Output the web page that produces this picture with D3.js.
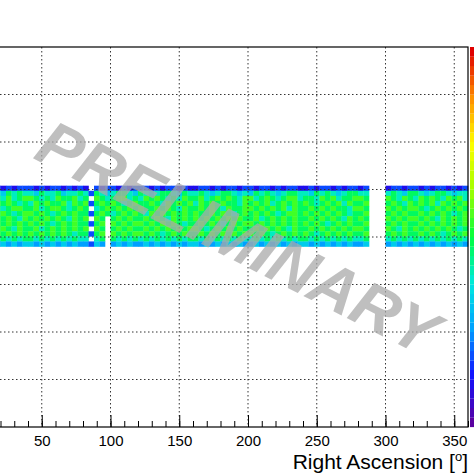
<!DOCTYPE html>
<html>
<head>
<meta charset="utf-8">
<script src="https://d3js.org/d3.v7.min.js"></script>
<style>
  body { margin: 0; background: #fff; }
  text { font-family: "Liberation Sans", Arial, sans-serif; }
</style>
</head>
<body>
<div id="chart"></div>
<script>
// RA bins of 4 degrees, rows of declination bins from bottom (row 11) to top (row 0)
var raStep = 4;
var decLow = 38, decHigh = 50.8;
// cell levels 0..9, "." = empty bin
var rows = [
  "0101101011" + "1010110101" + "0.10110101" + "1101011010" + "0110101101" + "1011010110" + "0101101011" + "01...01101" + "1010110101",
  "3445435454" + "4354453445" + "4154345543" + "5434554354" + "4543455434" + "3545434554" + "4354543455" + "44...45435" + "5434554344",
  "5465546456" + "6545465564" + "5.65456645" + "4656545465" + "5645656546" + "6456545664" + "5546564556" + "65...65465" + "4656546564",
  "5564656545" + "4656556465" + "6156565456" + "5565465656" + "4656565546" + "5656456565" + "6545656465" + "56...56546" + "5656465656",
  "6556545665" + "5645665456" + "5.45656565" + "6556565465" + "5656546556" + "6565656465" + "5656565546" + "65...65656" + "6545656565",
  "4656565456" + "6565456565" + "5156545656" + "5465656565" + "6556565456" + "5656545665" + "6565656545" + "56...56565" + "5656565456",
  "5565656546" + "5656565465" + "6.65.56565" + "5656546565" + "6565656565" + "5645656565" + "5656565465" + "65...65656" + "6565465656",
  "6545656565" + "6565456565" + "5156.65656" + "6565656545" + "5656545656" + "6565656565" + "6565456565" + "56...56565" + "5656565656",
  "5656565465" + "5645656565" + "6.65.56565" + "5656565656" + "6545656565" + "5656565465" + "5656565656" + "65...65465" + "6565656545",
  "4565656565" + "6565656545" + "5156.65656" + "6565456565" + "5656565656" + "6565456565" + "6545656565" + "56...56565" + "5656545656",
  "4545454545" + "5454545454" + "4.45.54545" + "4545454545" + "5454545454" + "4545454545" + "5454545454" + "45...45454" + "5454545454",
  "2323232323" + "3232323232" + "2132.23232" + "2323232323" + "3232323232" + "2323232323" + "3232323232" + "23...23232" + "3232323232"
];
var raTicks = [0, 50, 100, 150, 200, 250, 300, 350];
var decTicks = [0, 10, 20, 30, 40, 50, 60, 70, 80];
var paletteColors = ["#5a00a0", "#1010ff", "#00a0ff", "#00e8e0", "#00ff40", "#a0ff00", "#ffff00", "#ff9000", "#e00000"];

var W = 474, H = 474;
var svg = d3.select("#chart").append("svg").attr("width", W).attr("height", H);

var x = d3.scaleLinear().domain([0, 360]).range([-27, 468]);
var y = d3.scaleLinear().domain([0, 80]).range([427, 47]);
var color = d3.scaleLinear().domain(d3.range(paletteColors.length).map(function(i){ return i / (paletteColors.length - 1); }))
    .range(paletteColors).interpolate(d3.interpolateRgb);

var cells = [];
var nRows = rows.length, dDec = (decHigh - decLow) / nRows;
rows.forEach(function(r, i){
  r.split("").forEach(function(ch, j){
    if (ch === ".") return;
    cells.push({ ra: j * raStep, dec: decHigh - (i + 1) * dDec, v: +ch });
  });
});

svg.append("g").selectAll("rect").data(cells).enter().append("rect")
  .attr("x", function(d){ return x(d.ra); })
  .attr("y", function(d){ return y(d.dec + dDec); })
  .attr("width", x(raStep) - x(0) + 0.3)
  .attr("height", y(0) - y(dDec) + 0.3)
  .attr("fill", function(d){ return color(0.1 + d.v * 0.075); });

// grid
var grid = svg.append("g").attr("stroke", "#333").attr("stroke-dasharray", "1.5,2.5").attr("stroke-width", 1);
raTicks.forEach(function(t){
  grid.append("line").attr("x1", x(t)).attr("x2", x(t)).attr("y1", 47).attr("y2", 427);
});
decTicks.slice(1, -1).forEach(function(t){
  grid.append("line").attr("x1", 0).attr("x2", 468).attr("y1", y(t)).attr("y2", y(t));
});

// frame
svg.append("rect").attr("x", x(0)).attr("y", 47).attr("width", x(360) - x(0)).attr("height", 380)
  .attr("fill", "none").attr("stroke", "#000").attr("stroke-width", 1.2);

// x axis
var xAxisCall = d3.axisBottom(x).tickValues(raTicks).tickSize(-12).tickPadding(8)
  .tickFormat(function(d){ return d === 0 ? "" : d; });
var xa = svg.append("g").attr("transform", "translate(0,427)").call(xAxisCall);
xa.select(".domain").remove();
xa.selectAll("text").attr("font-size", "15px").attr("fill", "#000")
  .attr("font-family", "Liberation Sans, Arial, sans-serif");
svg.append("g").attr("transform", "translate(0,427)")
  .call(d3.axisBottom(x).tickValues(d3.range(0, 361, 10)).tickSize(-6).tickFormat(""))
  .select(".domain").remove();

var title = svg.append("text").attr("x", 468).attr("y", 469).attr("text-anchor", "end")
  .attr("font-size", "21px");
title.append("tspan").text("Right Ascension [");
title.append("tspan").attr("font-size", "13px").attr("dy", "-8").text("o");
title.append("tspan").attr("dy", "8").text("]");

// palette
var pal = svg.append("g");
d3.range(40).forEach(function(i){
  pal.append("rect").attr("x", 470).attr("width", 5)
    .attr("y", 427 - (i + 1) * 9.5).attr("height", 9.6)
    .attr("fill", color(i / 39));
});

// watermark
svg.append("text").attr("transform", "translate(238,238) rotate(27)")
  .attr("text-anchor", "middle").attr("dominant-baseline", "central")
  .attr("font-size", "64px").attr("font-weight", "bold").attr("font-style", "italic")
  .attr("fill", "#aaa").attr("fill-opacity", 0.75).text("PRELIMINARY");
</script>
</body>
</html>
